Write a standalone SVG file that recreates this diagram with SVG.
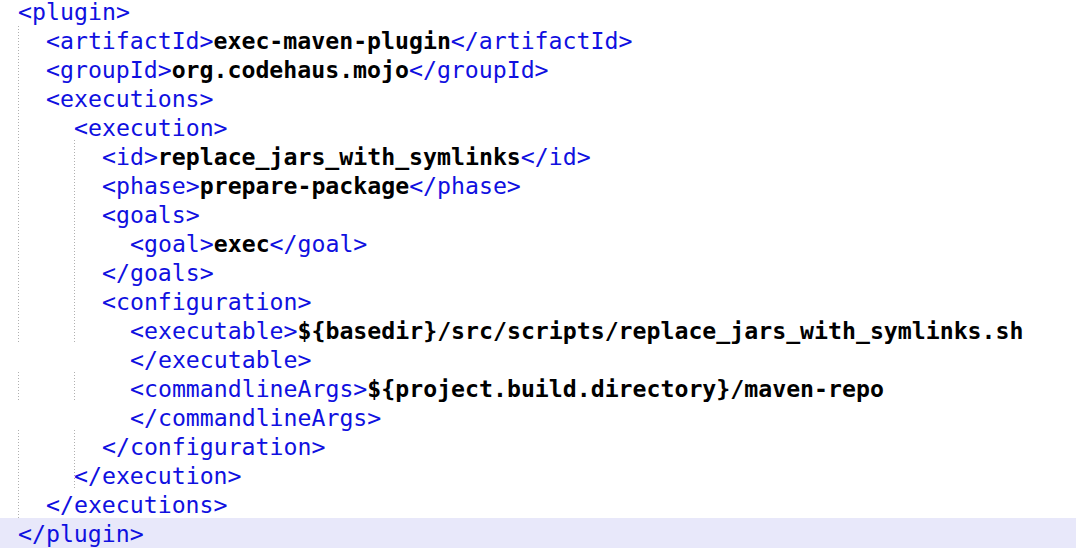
<svg xmlns="http://www.w3.org/2000/svg" width="1076" height="548" viewBox="0 0 1076 548">
<style>
text{font-family:"DejaVu Sans Mono","Liberation Mono",monospace;font-size:23.2px;white-space:pre}
.t{fill:#1010e0}
.v{fill:#000;font-weight:bold}
.g{stroke:#b0b0b0;stroke-width:1;stroke-dasharray:1 2}
</style>
<rect width="1076" height="548" fill="#fff"/>
<rect x="0" y="518" width="1076" height="30" fill="#e8e8fa"/>
<g id="guides">
<path class="g" d="M18.5 26V343M18.5 372V401M18.5 430V518M74.5 140V343M74.5 372V401M74.5 430V488"/>
</g>
<g id="code" xml:space="preserve">
<text x="18" y="20" textLength="112"><tspan class="t">&lt;plugin&gt;</tspan></text>
<text x="46" y="49"><tspan class="t">&lt;artifactId&gt;</tspan><tspan class="v">exec-maven-plugin</tspan><tspan class="t">&lt;/artifactId&gt;</tspan></text>
<text x="46" y="78"><tspan class="t">&lt;groupId&gt;</tspan><tspan class="v">org.codehaus.mojo</tspan><tspan class="t">&lt;/groupId&gt;</tspan></text>
<text x="46" y="107"><tspan class="t">&lt;executions&gt;</tspan></text>
<text x="74" y="136"><tspan class="t">&lt;execution&gt;</tspan></text>
<text x="102" y="165"><tspan class="t">&lt;id&gt;</tspan><tspan class="v">replace_jars_with_symlinks</tspan><tspan class="t">&lt;/id&gt;</tspan></text>
<text x="102" y="194"><tspan class="t">&lt;phase&gt;</tspan><tspan class="v">prepare-package</tspan><tspan class="t">&lt;/phase&gt;</tspan></text>
<text x="102" y="223"><tspan class="t">&lt;goals&gt;</tspan></text>
<text x="130" y="252"><tspan class="t">&lt;goal&gt;</tspan><tspan class="v">exec</tspan><tspan class="t">&lt;/goal&gt;</tspan></text>
<text x="102" y="281"><tspan class="t">&lt;/goals&gt;</tspan></text>
<text x="102" y="310"><tspan class="t">&lt;configuration&gt;</tspan></text>
<text x="130" y="339"><tspan class="t">&lt;executable&gt;</tspan><tspan class="v">${basedir}/src/scripts/replace_jars_with_symlinks.sh</tspan></text>
<text x="130" y="368"><tspan class="t">&lt;/executable&gt;</tspan></text>
<text x="130" y="397"><tspan class="t">&lt;commandlineArgs&gt;</tspan><tspan class="v">${project.build.directory}/maven-repo</tspan></text>
<text x="130" y="426"><tspan class="t">&lt;/commandlineArgs&gt;</tspan></text>
<text x="102" y="455"><tspan class="t">&lt;/configuration&gt;</tspan></text>
<text x="74" y="484"><tspan class="t">&lt;/execution&gt;</tspan></text>
<text x="46" y="513"><tspan class="t">&lt;/executions&gt;</tspan></text>
<text x="18" y="542"><tspan class="t">&lt;/plugin&gt;</tspan></text>
</g>
</svg>
